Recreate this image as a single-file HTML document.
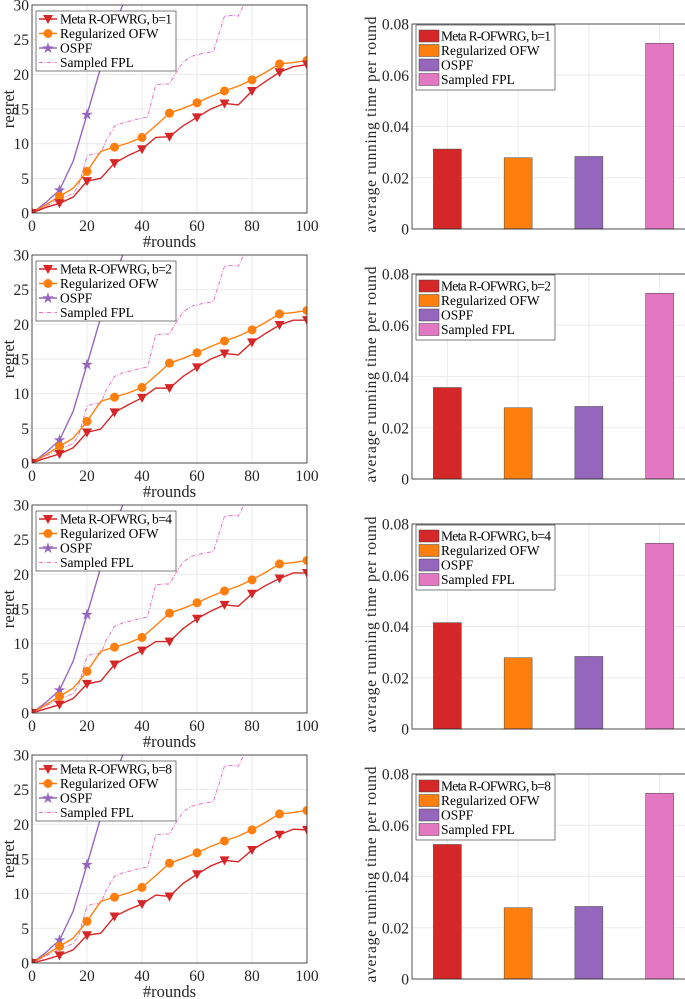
<!DOCTYPE html>
<html><head><meta charset="utf-8"><style>
html,body{margin:0;padding:0;background:#fff;}
svg{display:block;}
svg text{font-family:"Liberation Serif","DejaVu Serif",serif;}
</style></head><body>
<svg id="fig" width="685" height="999" viewBox="0 0 685 999" xmlns="http://www.w3.org/2000/svg"></svg>
<script>
const rounds=[0,5,10,15,20,25,30,35,40,45,50,55,60,65,70,75,80,85,90,95,100];
const bValues=[1,2,4,8];
const metaB1=[0,0.8,1.4,2.3,4.6,5,7.2,8.3,9.2,10.9,11,12.6,13.8,15,15.8,15.6,17.6,19,20.3,21.1,21.4];
const metaB2=[0,0.7,1.3,2.2,4.4,4.9,7.3,8.4,9.4,10.8,10.8,12.5,13.8,15,15.8,15.6,17.4,18.7,19.9,20.6,20.6];
const metaB4=[0,0.6,1.2,2.1,4.2,4.6,7,8.1,9,10.3,10.3,12.2,13.6,14.7,15.6,15.4,17.2,18.4,19.4,20.2,20.2];
const metaB8=[0,0.5,1.1,1.9,4.0,4.3,6.7,7.7,8.5,9.8,9.6,11.5,12.8,14,14.8,14.6,16.3,17.5,18.5,19.3,19.2];
const ofw=[0,1.2,2.4,3.6,6,8.9,9.5,10.1,10.9,12.6,14.4,15.1,15.9,16.8,17.6,18.3,19.2,20.3,21.5,21.7,22];
const ospfX=[0,5,10,15,20,25,30,35];
const ospfY=[0,1.5,3.3,7.5,14.2,21,27,32];
const fplX=[0,5,10,15,17,20,22,25,27,30,33,35,40,42,45,48,50,52,55,58,62,66,70,73,75,77,80];
const fplY=[0,1,2,2.8,4,8.2,8.5,8.6,10.5,12.5,13,13.2,13.7,13.8,18.5,18.6,18.6,20,21.8,22.6,23,23.3,28.4,28.5,28.4,30,32];
const metaTime=[0.0312,0.0357,0.0415,0.0525];
const ofwTime=0.0278, ospfTime=0.0283, fplTime=0.0725;
const xTicks=[0,20,40,60,80,100];
const yTicks=[0,5,10,15,20,25,30];
const tTicks=[0,0.02,0.04,0.06,0.08];
const tTickLabels=["0","0.02","0.04","0.06","0.08"];
const metaSeries=[metaB1,metaB2,metaB4,metaB8];
const C={red:"#d62728",orange:"#ff7f0e",purple:"#9467bd",pink:"#e377c2"};
const NS="http://www.w3.org/2000/svg";
const svg=document.getElementById('fig');
function mk(tag,attrs,parent,text){const e=document.createElementNS(NS,tag);for(const k in attrs)e.setAttribute(k,attrs[k]);if(text!==undefined)e.textContent=text;(parent||svg).appendChild(e);return e;}
const defs=mk('defs',{});
for(let r=0;r<4;r++){
  const oy=r*250;
  const L=32,R=307,T=5+oy,B=213+oy;
  const sx=v=>L+(v/100)*(R-L), sy=v=>B-(v/30)*(B-T);
  const cp=mk('clipPath',{id:'cl'+r},defs);mk('rect',{x:L,y:T,width:R-L,height:B-T},cp);
  const g=mk('g',{});
  xTicks.forEach(t=>{mk('line',{x1:sx(t),x2:sx(t),y1:T,y2:B,stroke:'#ebebeb','stroke-width':1},g);
    const tx=mk('text',{x:sx(t),y:B+18,'text-anchor':'middle','font-size':15.5,fill:'#262626'},g,String(t));});
  yTicks.forEach(t=>{mk('line',{x1:L,x2:R,y1:sy(t),y2:sy(t),stroke:'#ebebeb','stroke-width':1},g);
    const ty=mk('text',{x:L-3,y:sy(t)+5.5,'text-anchor':'end','font-size':15.5,fill:'#262626'},g,String(t));});
  const lines=mk('g',{'clip-path':'url(#cl'+r+')'},g);
  const poly=(xs,ys,col,extra)=>mk('polyline',Object.assign({points:xs.map((x,i)=>sx(x)+','+sy(ys[i])).join(' '),fill:'none',stroke:col,'stroke-width':1.4},extra||{}),lines);
  const pf=poly(fplX,fplY,C.pink,{'stroke-dasharray':'4,1.5,1,1.5','stroke-width':1});
  const po=poly(ospfX,ospfY,C.purple);
  const pw=poly(rounds,ofw,C.orange);
  const pm=poly(rounds,metaSeries[r],C.red);
  ospfX.forEach((x,i)=>{if(x%10===0&&ospfY[i]<=30){const s=mk('text',{x:sx(x),y:sy(ospfY[i])+5,'text-anchor':'middle','font-size':15,fill:C.purple,style:'font-family:"DejaVu Sans",sans-serif'},lines,'★');}});
  rounds.forEach((x,i)=>{if(x%10===0){const c=mk('circle',{cx:sx(x),cy:sy(ofw[i]),r:4.5,fill:C.orange},lines);
    const y=sy(metaSeries[r][i]),X=sx(x);const m=mk('polygon',{points:`${X-5},${y-4} ${X+5},${y-4} ${X},${y+5}`,fill:C.red},lines);}});
  mk('rect',{x:L,y:T,width:R-L,height:B-T,fill:'none',stroke:'#262626','stroke-width':0.8},g);
  const xl=mk('text',{x:(L+R)/2,y:B+34,'text-anchor':'middle','font-size':16.5,fill:'#262626'},g,'#rounds');
  const yl=mk('text',{x:0,y:0,transform:`translate(14,${(T+B)/2}) rotate(-90)`,'text-anchor':'middle','font-size':16.5,fill:'#262626'},g,'regret');
  const lg=mk('g',{},g);
  mk('rect',{x:36,y:11+oy,width:140,height:60,fill:'#fff',stroke:'#262626','stroke-width':0.6},lg);
  const names=['Meta R-OFWRG, b='+bValues[r],'Regularized OFW','OSPF','Sampled FPL'];
  const cols=[C.red,C.orange,C.purple,C.pink];
  names.forEach((n,i)=>{const yy=oy+19+i*14.5;
    mk('line',{x1:39,x2:57,y1:yy,y2:yy,stroke:cols[i],'stroke-width':i==3?1:1.4,'stroke-dasharray':i==3?'4,1.5,1,1.5':'none'},lg);
    if(i==0)mk('polygon',{points:`43,${yy-4} 53,${yy-4} 48,${yy+5}`,fill:C.red},lg);
    if(i==1)mk('circle',{cx:48,cy:yy,r:4.5,fill:C.orange},lg);
    if(i==2)mk('text',{x:48,y:yy+5,'text-anchor':'middle','font-size':15,fill:C.purple,style:'font-family:"DejaVu Sans",sans-serif'},lg,'★');
    const t=mk('text',{x:60,y:yy+4.5,'font-size':13.5,fill:'#000'},lg,n);
    if(i==0)t.setAttribute('textLength',112);
    });

  const BL=412,BR=695,BT=24+oy,BB=229+oy;
  const bx=i=>BL+(i+0.5)/4*(BR-BL), by=v=>BB-(v/0.08)*(BB-BT);
  const gb=mk('g',{});
  [0,1,2,3].forEach(i=>mk('line',{x1:bx(i),x2:bx(i),y1:BT,y2:BB,stroke:'#ebebeb'},gb));
  tTicks.forEach((t,i)=>{mk('line',{x1:BL,x2:BR,y1:by(t),y2:by(t),stroke:'#ebebeb'},gb);
    const tl=mk('text',{x:BL-3,y:by(t)+5.5,'text-anchor':'end','font-size':15.5,fill:'#262626'},gb,tTickLabels[i]);});
  const vals=[metaTime[r],ofwTime,ospfTime,fplTime];
  const bn=['bar-meta-rofwrg','bar-regularized-ofw','bar-ospf','bar-sampled-fpl'];
  vals.forEach((v,i)=>{const b=mk('rect',{x:bx(i)-14,y:by(v),width:28,height:BB-by(v),fill:cols[i],stroke:'#444','stroke-width':0.5},gb);});
  mk('rect',{x:BL,y:BT,width:BR-BL,height:BB-BT,fill:'none',stroke:'#262626','stroke-width':0.8},gb);
  const yl2=mk('text',{x:0,y:0,transform:`translate(376,${(BT+BB)/2-2}) rotate(-90)`,'text-anchor':'middle','font-size':15.5,fill:'#262626',textLength:216},gb,'average running time per round');
  const lb=mk('g',{},gb);
  mk('rect',{x:416,y:25+oy,width:139,height:65,fill:'#fff',stroke:'#262626','stroke-width':0.6},lb);
  names.forEach((n,i)=>{const yy=oy+36+i*14.5;
    mk('rect',{x:419,y:yy-6,width:20,height:12,fill:cols[i],stroke:'#444','stroke-width':0.5},lb);
    const t=mk('text',{x:441,y:yy+4.5,'font-size':13.5,fill:'#000'},lb,n);
    if(i==0)t.setAttribute('textLength',110);
    });
}
</script>
</body></html>
